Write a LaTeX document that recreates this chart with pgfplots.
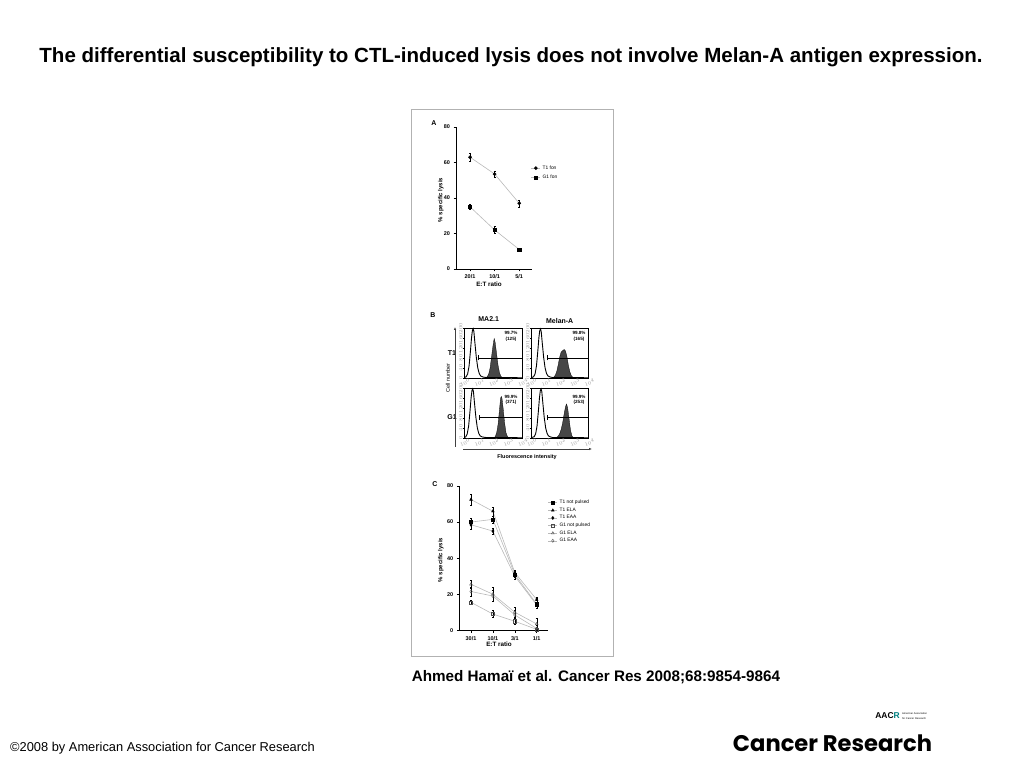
\documentclass[border=0pt]{standalone}
\usepackage{pgfplots}
\pgfplotsset{compat=1.18}
\usepackage{graphicx}
\usepackage{fontspec}
\setmainfont{Liberation Sans}
\newfontfamily\logofont{Poppins}
\usetikzlibrary{arrows.meta}

\pgfplotsset{
  lysis/.style={
    scale only axis, anchor=south west,
    axis x line*=bottom, axis y line*=left,
    ymin=0, ymax=80, ytick={0,20,40,60,80},
    tick align=outside, major tick length=2.5bp,
    ticklabel style={font=\fontsize{5.5}{6}\selectfont\bfseries},
    /pgf/number format/assume math mode=true,
    axis line style={line width=0.6bp},
    tick style={line width=0.6bp, black},
    xtick=data,
    error bars/y dir=both, error bars/y explicit,
    error bars/error bar style={black, line width=0.4bp},
    error bars/error mark options={rotate=90, black, mark size=1bp, line width=0.4bp},
    legend style={draw=none, fill=none, font=\fontsize{4.9}{5.5}\selectfont, inner sep=0pt, outer sep=0pt, cells={anchor=west}},
    legend image code/.code={\draw[mark repeat=2,mark phase=2,#1] plot coordinates {(0bp,0bp)(4.5bp,0bp)(9bp,0bp)};},
  },
  ser/.style={draw=gray!55, line width=0.6bp, mark size=1.6bp, mark options={draw=black, fill=black, solid, line width=0.4bp}},
  oser/.style={draw=gray!55, line width=0.6bp, mark size=1.6bp, mark options={draw=gray!60!black, fill=white, solid, line width=0.4bp}},
  hist/.style={
    scale only axis, anchor=south west, height=50bp,
    xmin=0, xmax=4, ymin=0, ymax=200,
    xtick={0,1,2,3,4}, xticklabels={$10^0$,$10^1$,$10^2$,$10^3$,$10^4$},
    ytick={0,40,80,120,160,200},
    tick align=outside, major tick length=1.2bp, tick pos=left,
    ticklabel style={font=\fontsize{2.4}{3}\selectfont, inner sep=0.2bp, text=gray!80},
    yticklabel style={rotate=90, anchor=south},
    xticklabel style={rotate=20, anchor=north},
    axis line style={line width=0.5bp},
    tick style={line width=0.4bp, black},
  },
  filledh/.style={fill=gray!55!black, draw=black, line width=0.3bp},
  openh/.style={black, line width=0.9bp},
  gate/.style={black, line width=0.5bp},
}

\begin{document}
\begin{tikzpicture}[x=1bp,y=1bp]
\path[use as bounding box] (0,0) rectangle (1024,768);

% Title
\node[font=\fontsize{20.6}{24}\selectfont\bfseries] at (511,711) {The differential susceptibility to CTL-induced lysis does not involve Melan-A antigen expression.};

% Figure frame
\draw[gray!60, line width=1bp] (411,111) rectangle (613,658);

% Panel letters
\node[font=\fontsize{7}{8}\selectfont\bfseries] at (434,645) {A};
\node[font=\fontsize{7}{8}\selectfont\bfseries] at (433,453) {B};
\node[font=\fontsize{7}{8}\selectfont\bfseries] at (435,284) {C};

% ---------------- Panel A ----------------
\begin{axis}[lysis, at={(456bp,499bp)}, width=76bp, height=142bp,
  xmin=-0.57, xmax=2.52, xticklabels={20/1,10/1,5/1},
  legend style={at={(0.987,0.742)}, anchor=north west, row sep=0.2bp}]
\addplot[ser, mark=*] coordinates {(0,63) +- (0,2) (1,53.5) +- (0,1.8) (2,37) +- (0,2)};
\addlegendentry{T1 fon}
\addplot[ser, mark=square*] coordinates {(0,35) +- (0,1.5) (1,22) +- (0,2) (2,11) +- (0,0.8)};
\addlegendentry{G1 fon}
\end{axis}
\node[font=\fontsize{6}{7}\selectfont\bfseries, rotate=90] at (440.7,568) {\% specific lysis};
\node[font=\fontsize{6.3}{7}\selectfont\bfseries] at (489,484) {E:T ratio};

% ---------------- Panel B ----------------
% top-left: T1 MA2.1
\begin{axis}[hist, at={(464bp,390bp)}, width=58bp]
\addplot[filledh] coordinates {(1.5,0) (1.6,5) (1.7,15) (1.8,40) (1.9,85) (2.0,130) (2.08,158) (2.15,142) (2.25,95) (2.35,50) (2.45,20) (2.55,6) (2.65,1) (2.75,0)} \closedcycle;
\addplot[openh] coordinates {(0.05,2) (0.15,5) (0.25,16) (0.35,48) (0.45,112) (0.52,162) (0.58,190) (0.63,197) (0.68,186) (0.75,142) (0.85,82) (0.95,40) (1.05,18) (1.15,8) (1.3,4) (1.5,2) (2,1.5) (3,1.5) (4,1)};
\addplot[gate] coordinates {(0.95,80) (4,80)};
\addplot[gate] coordinates {(0.95,70) (0.95,90)};
\end{axis}
% bottom-left: G1 MA2.1
\begin{axis}[hist, at={(464bp,330bp)}, width=58bp]
\addplot[filledh] coordinates {(2.05,0) (2.15,5) (2.25,20) (2.35,55) (2.45,115) (2.52,158) (2.57,166) (2.62,158) (2.7,118) (2.8,60) (2.9,20) (3.0,5) (3.1,0)} \closedcycle;
\addplot[openh] coordinates {(0.05,2) (0.12,5) (0.22,16) (0.32,48) (0.42,112) (0.49,162) (0.55,190) (0.6,196) (0.65,186) (0.72,142) (0.82,82) (0.92,40) (1.02,18) (1.12,8) (1.27,4) (1.5,2) (2,1.5) (3,1.5) (4,1)};
\addplot[gate] coordinates {(1.05,83) (4,83)};
\addplot[gate] coordinates {(1.05,73) (1.05,93)};
\end{axis}
% top-right: T1 Melan-A
\begin{axis}[hist, at={(531bp,390bp)}, width=57.5bp]
\addplot[filledh] coordinates {(1.5,0) (1.6,4) (1.7,12) (1.8,28) (1.9,55) (2.0,85) (2.1,104) (2.18,108) (2.3,114) (2.4,108) (2.5,85) (2.6,50) (2.7,25) (2.8,10) (2.9,3) (3.0,0)} \closedcycle;
\addplot[openh] coordinates {(0.05,2) (0.18,5) (0.28,16) (0.38,48) (0.48,112) (0.55,162) (0.61,190) (0.66,196) (0.71,186) (0.78,142) (0.88,82) (0.98,40) (1.08,18) (1.18,8) (1.33,4) (1.5,2) (2,1.5) (3,1.5) (4,1)};
\addplot[gate] coordinates {(1.1,80) (4,80)};
\addplot[gate] coordinates {(1.1,70) (1.1,90)};
\end{axis}
% bottom-right: G1 Melan-A
\begin{axis}[hist, at={(531bp,330bp)}, width=57.5bp]
\addplot[filledh] coordinates {(1.7,0) (1.8,3) (1.9,8) (2.0,18) (2.1,35) (2.2,60) (2.3,95) (2.4,125) (2.47,136) (2.55,120) (2.65,75) (2.75,30) (2.85,8) (2.95,0)} \closedcycle;
\addplot[openh] coordinates {(0.05,2) (0.22,5) (0.32,16) (0.42,48) (0.52,112) (0.59,162) (0.65,190) (0.7,196) (0.75,186) (0.82,142) (0.92,82) (1.02,40) (1.12,18) (1.22,8) (1.37,4) (1.5,2) (2,1.5) (3,1.5) (4,1)};
\addplot[gate] coordinates {(1.1,83) (4,83)};
\addplot[gate] coordinates {(1.1,73) (1.1,93)};
\end{axis}
% B annotations
\node[font=\fontsize{7}{8}\selectfont\bfseries] at (488.7,448.7) {MA2.1};
\node[font=\fontsize{7}{8}\selectfont\bfseries] at (559.7,447.3) {Melan-A};
\node[font=\fontsize{7}{8}\selectfont\bfseries] at (452,414.7) {T1};
\node[font=\fontsize{7}{8}\selectfont\bfseries] at (452,351.3) {G1};
\node[font=\fontsize{4.6}{5}\selectfont\bfseries] at (511,435) {99.7\%};
\node[font=\fontsize{4.6}{5}\selectfont\bfseries] at (511,428.5) {(125)};
\node[font=\fontsize{4.6}{5}\selectfont\bfseries] at (579,435) {99.8\%};
\node[font=\fontsize{4.6}{5}\selectfont\bfseries] at (579,428.5) {(165)};
\node[font=\fontsize{4.6}{5}\selectfont\bfseries] at (511,371) {99.9\%};
\node[font=\fontsize{4.6}{5}\selectfont\bfseries] at (511,365.5) {(371)};
\node[font=\fontsize{4.6}{5}\selectfont\bfseries] at (579,371) {99.9\%};
\node[font=\fontsize{4.6}{5}\selectfont\bfseries] at (579,365.5) {(253)};
\node[font=\fontsize{5.5}{6}\selectfont, rotate=90] at (448,390) {Cell number};
\draw[line width=0.7bp, gray!50!black, -{Latex[length=3bp,width=2.5bp]}] (455,321) -- (455,441);
\draw[line width=0.7bp, gray!50!black, -{Latex[length=3bp,width=2.5bp]}] (463,319) -- (592,319);
\node[font=\fontsize{5.5}{6}\selectfont\bfseries] at (527,311) {Fluorescence intensity};

% ---------------- Panel C ----------------
\begin{axis}[lysis, at={(459.3bp,137.7bp)}, width=88.7bp, height=144.3bp,
  xmin=-0.534, xmax=3.516, xticklabels={30/1,10/1,3/1,1/1},
  legend style={at={(1.0,0.915)}, anchor=north west, row sep=-1.3bp}]
\addplot[ser, mark=square*] coordinates {(0,60) +- (0,2) (1,61.5) +- (0,2) (2,31) +- (0,1.5) (3,14.5) +- (0,2)};
\addlegendentry{T1 not pulsed}
\addplot[ser, mark=triangle*] coordinates {(0,72.5) +- (0,3) (1,66) +- (0,2.5) (2,32) +- (0,1.5) (3,17) +- (0,1.5)};
\addlegendentry{T1 ELA}
\addplot[ser, mark=diamond*] coordinates {(0,58.5) +- (0,2.5) (1,55) +- (0,1.5) (2,30) +- (0,1.5) (3,14) +- (0,1.5)};
\addlegendentry{T1 EAA}
\addplot[oser, mark=square] coordinates {(0,15.5) +- (0,1) (1,9) +- (0,2) (2,5) +- (0,1.5) (3,0.5) +- (0,1)};
\addlegendentry{G1 not pulsed}
\addplot[oser, mark=triangle] coordinates {(0,25.5) +- (0,2) (1,20) +- (0,4) (2,10) +- (0,3) (3,3.5) +- (0,3)};
\addlegendentry{G1 ELA}
\addplot[oser, mark=diamond] coordinates {(0,21.5) +- (0,2.5) (1,19) +- (0,3) (2,8.5) +- (0,2.5) (3,1) +- (0,2)};
\addlegendentry{G1 EAA}
\end{axis}
\node[font=\fontsize{6}{7}\selectfont\bfseries, rotate=90] at (440.7,208) {\% specific lysis};
\node[font=\fontsize{6.3}{7}\selectfont\bfseries] at (499,124) {E:T ratio};

% Footer
\node[font=\fontsize{15.3}{17}\selectfont\bfseries] at (596,91) {Ahmed Hamaï et al. Cancer Res 2008;68:9854-9864};
\node[font=\fontsize{12.9}{14}\selectfont, anchor=west, inner sep=0pt] at (10,20) {©2008 by American Association for Cancer Research};
\node[inner sep=0pt] at (832.5,25) {\resizebox{199bp}{!}{\logofont\bfseries Cancer Research}};
\node[font=\fontsize{8.5}{9}\selectfont\bfseries, inner sep=0pt, anchor=east] at (900,52) {AAC\textcolor{teal}{R}};
\node[font=\fontsize{2.6}{3}\selectfont, inner sep=0pt, anchor=west] at (902,54.3) {American Association};
\node[font=\fontsize{2.6}{3}\selectfont, inner sep=0pt, anchor=west] at (902,49.8) {for Cancer Research};
\end{tikzpicture}
\end{document}
